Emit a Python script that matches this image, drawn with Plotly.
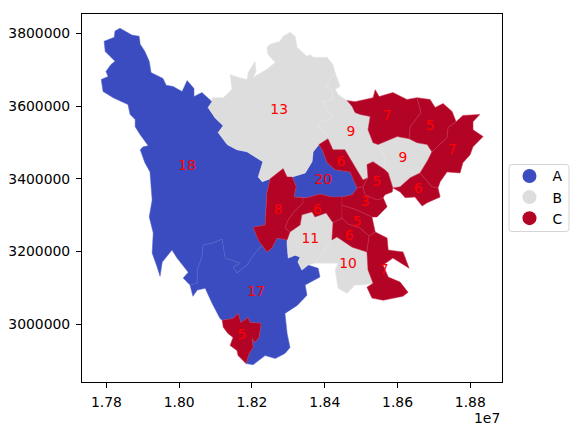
import plotly.graph_objects as go

# district outlines, x in units of 1e4, y in units of 1e3
d18_x = [1783.3, 1784.7, 1786.6, 1788.6, 1788.9, 1790.2, 1791.4, 1791.9, 1795.2, 1796.1, 1798, 1800.5, 1801.9, 1803.8, 1803.8, 1806, 1808.8, 1807.7, 1809.6, 1811.9, 1810.5, 1813, 1815.7, 1818.5, 1822.9, 1821.6, 1822.7, 1824.9, 1824, 1823.8, 1823.5, 1820.2, 1821.6, 1822.7, 1820.7, 1818.5, 1815.7, 1814.6, 1816.6, 1812.4, 1811.6, 1808.8, 1806.3, 1806, 1804.7, 1804.7, 1802.7, 1800.8, 1802.2, 1799.1, 1797.7, 1795, 1794.4, 1793.6, 1792.2, 1792.5, 1791.4, 1792.2, 1791.6, 1790.2, 1788.9, 1789.7, 1791.1, 1788.9, 1787.5, 1787.5, 1786.1, 1785.5, 1781.4, 1778.6, 1778.1, 1780, 1779.4, 1780.8, 1781.9, 1779.2, 1778.9, 1781.7, 1781.9]
d18_y = [3814, 3806, 3795, 3792, 3770, 3750, 3723, 3692, 3676, 3657, 3654, 3640, 3670, 3648, 3626, 3637, 3612, 3596, 3568, 3546, 3527, 3494, 3480, 3474, 3447, 3405, 3392, 3400, 3361, 3334, 3273, 3267, 3232, 3218, 3196, 3163, 3141, 3157, 3168, 3182, 3234, 3223, 3218, 3185, 3149, 3113, 3108, 3127, 3143, 3182, 3204, 3171, 3132, 3157, 3196, 3251, 3295, 3342, 3419, 3444, 3480, 3488, 3491, 3521, 3543, 3563, 3577, 3604, 3623, 3640, 3673, 3681, 3695, 3714, 3723, 3750, 3778, 3789, 3806]

d17_x = [1821.6, 1824, 1825.4, 1826.8, 1829.6, 1829.6, 1829.9, 1831.8, 1833.2, 1832.6, 1833.7, 1835.4, 1838.2, 1838.7, 1834.6, 1835.1, 1832.4, 1829, 1829.6, 1830.4, 1829, 1826.3, 1823.5, 1820.2, 1818.2, 1819.1, 1820.2, 1819.9, 1820.7, 1821.8, 1822.4, 1819.3, 1818.8, 1816.8, 1816, 1814.6, 1811.6, 1811, 1808.8, 1806.9, 1804.7, 1803.5, 1802.7, 1804.7, 1804.7, 1806, 1806.3, 1808.8, 1811.6, 1812.4, 1816.6, 1814.6, 1815.7, 1818.5, 1820.7, 1822.7]
d17_y = [3232, 3199, 3210, 3237, 3232, 3218, 3182, 3190, 3185, 3171, 3149, 3163, 3154, 3130, 3108, 3080, 3052, 3030, 2975, 2936, 2920, 2906, 2914, 2889, 2892, 2920, 2936, 2961, 2950, 2964, 3003, 3005, 3019, 3005, 3030, 3016, 3011, 3016, 3058, 3099, 3094, 3077, 3108, 3113, 3149, 3185, 3218, 3223, 3234, 3182, 3168, 3157, 3141, 3163, 3196, 3218]

d20_x = [1831, 1834.6, 1836.5, 1836.8, 1838.4, 1839.3, 1840.7, 1842.9, 1847, 1849, 1847.6, 1844.8, 1842, 1838.7, 1835.1, 1831.5, 1832.1]
d20_y = [3405, 3416, 3447, 3474, 3494, 3480, 3444, 3425, 3419, 3375, 3356, 3350, 3350, 3358, 3348, 3350, 3378]

d13_x = [1808.8, 1811.9, 1814.3, 1813.8, 1816, 1818.5, 1818.8, 1820.7, 1821, 1820.2, 1824, 1824.9, 1826.3, 1824.3, 1824, 1824.9, 1827.6, 1828.5, 1830.4, 1831.8, 1832.4, 1835.1, 1836, 1836.8, 1840.7, 1842.3, 1842.9, 1840.1, 1842, 1842.3, 1839.6, 1840.7, 1842.3, 1838.7, 1838.2, 1840.9, 1840.9, 1838.4, 1836.8, 1836.5, 1834.6, 1831, 1829.6, 1828.5, 1824.9, 1822.7, 1821.6, 1822.9, 1818.5, 1815.7, 1813, 1810.5, 1811.9, 1809.6, 1807.7, 1808.8]
d13_y = [3623, 3623, 3646, 3687, 3679, 3673, 3692, 3723, 3695, 3679, 3701, 3709, 3720, 3742, 3761, 3770, 3778, 3792, 3803, 3792, 3761, 3737, 3742, 3734, 3734, 3714, 3692, 3654, 3646, 3618, 3612, 3590, 3568, 3555, 3541, 3521, 3510, 3494, 3474, 3447, 3416, 3405, 3405, 3428, 3400, 3392, 3405, 3447, 3474, 3480, 3494, 3527, 3546, 3568, 3596, 3612]

d9n_x = [1842.9, 1844.3, 1842.9, 1843.7, 1846.2, 1847.6, 1848.4, 1849.8, 1852.6, 1852, 1853.4, 1854.8, 1856.7, 1856.7, 1853.4, 1851.7, 1852, 1850.6, 1848.4, 1845.6, 1842.3, 1840.9, 1840.9, 1838.2, 1838.7, 1842.3, 1840.7, 1839.6, 1842.3, 1842, 1840.1]
d9n_y = [3692, 3654, 3646, 3632, 3615, 3599, 3582, 3577, 3571, 3535, 3499, 3494, 3458, 3425, 3447, 3439, 3403, 3397, 3433, 3480, 3480, 3510, 3521, 3541, 3555, 3568, 3590, 3612, 3618, 3646, 3654]

d9e_x = [1854.8, 1860.1, 1863.4, 1865.6, 1868.4, 1869.7, 1868.6, 1866.4, 1863.7, 1860.9, 1858.9, 1857.6, 1856.7, 1856.7]
d9e_y = [3494, 3516, 3510, 3499, 3494, 3474, 3452, 3416, 3403, 3378, 3375, 3416, 3425, 3458]

d11_x = [1830.4, 1833.2, 1833.7, 1836.5, 1837.3, 1840.4, 1842.3, 1842, 1839.6, 1837.3, 1835.4, 1833.7, 1832.6, 1833.2, 1831.8, 1829.9, 1829.6, 1829.6]
d11_y = [3254, 3273, 3301, 3309, 3295, 3306, 3279, 3232, 3199, 3168, 3163, 3149, 3171, 3185, 3190, 3182, 3218, 3232]

d10_x = [1842, 1843.4, 1845.6, 1847.6, 1851.7, 1852, 1853.4, 1850.6, 1848.4, 1846.2, 1843.7, 1842.9, 1843.7, 1837.3, 1839.6]
d10_y = [3232, 3240, 3226, 3212, 3199, 3149, 3113, 3108, 3108, 3085, 3099, 3149, 3168, 3168, 3199]

d6n_x = [1838.4, 1840.9, 1842.3, 1845.6, 1848.4, 1850.6, 1852, 1850.6, 1849, 1847, 1842.9, 1840.7, 1839.3]
d6n_y = [3494, 3510, 3480, 3480, 3433, 3397, 3403, 3378, 3375, 3419, 3425, 3444, 3480]

d8_x = [1824.9, 1828.5, 1829.6, 1831, 1832.1, 1831.5, 1834, 1834, 1831.5, 1829.9, 1829, 1830.4, 1829.6, 1826.8, 1825.4, 1824, 1821.6, 1820.2, 1823.5, 1823.8, 1824]
d8_y = [3400, 3428, 3405, 3405, 3378, 3350, 3348, 3334, 3309, 3287, 3265, 3254, 3232, 3237, 3210, 3199, 3232, 3267, 3273, 3334, 3361]

d6c_x = [1831.5, 1834, 1834, 1835.1, 1838.7, 1842, 1844.8, 1844.8, 1844.8, 1842.3, 1840.4, 1837.3, 1836.5, 1833.7, 1833.2, 1830.4, 1829, 1829.9]
d6c_y = [3309, 3334, 3348, 3348, 3358, 3350, 3350, 3328, 3292, 3279, 3306, 3295, 3309, 3301, 3273, 3254, 3265, 3287]

d6s_x = [1842.3, 1844.8, 1846.5, 1849.8, 1852.3, 1851.7, 1847.6, 1845.6, 1843.4, 1842]
d6s_y = [3279, 3292, 3276, 3265, 3243, 3199, 3212, 3226, 3240, 3232]

d5m_x = [1844.8, 1849, 1853.1, 1854, 1852.3, 1849.8, 1846.5, 1844.8]
d5m_y = [3328, 3314, 3295, 3254, 3243, 3265, 3276, 3292]

d3_x = [1844.8, 1847.6, 1849, 1850.6, 1851.2, 1854.5, 1856.2, 1857.3, 1854.5, 1853.1, 1849, 1844.8]
d3_y = [3350, 3356, 3375, 3378, 3356, 3342, 3348, 3323, 3295, 3295, 3314, 3328]

d5c_x = [1850.6, 1852, 1851.7, 1853.4, 1856.7, 1857.6, 1858.9, 1858.7, 1856.7, 1856.2, 1854.5, 1851.2]
d5c_y = [3378, 3403, 3439, 3447, 3425, 3416, 3375, 3364, 3356, 3348, 3342, 3356]

d7s_x = [1852.3, 1854, 1857.3, 1857.6, 1861.7, 1863.4, 1858.9, 1856.2, 1857.6, 1860.9, 1863.1, 1861.7, 1856.2, 1853.1, 1851.7, 1853.4, 1852, 1851.7]
d7s_y = [3243, 3254, 3237, 3204, 3199, 3154, 3182, 3163, 3130, 3116, 3088, 3077, 3066, 3072, 3102, 3113, 3149, 3199]

d5sw_x = [1811.6, 1814.6, 1816, 1816.8, 1818.8, 1819.3, 1822.4, 1821.8, 1820.7, 1819.9, 1820.2, 1819.1, 1818.2, 1816, 1815.7, 1813.8, 1814.6, 1813.2, 1811.9]
d5sw_y = [3011, 3016, 3030, 3005, 3019, 3005, 3003, 2964, 2950, 2961, 2936, 2920, 2892, 2914, 2928, 2942, 2964, 2975, 2992]

d7n_x = [1846.2, 1848.4, 1853.4, 1854, 1855.1, 1858.9, 1862.8, 1865.6, 1866.7, 1863.7, 1863.4, 1860.1, 1854.8, 1853.4, 1852, 1852.6, 1849.8, 1848.4, 1847.6]
d7n_y = [3615, 3612, 3623, 3645, 3626, 3637, 3618, 3623, 3582, 3543, 3510, 3516, 3494, 3499, 3535, 3571, 3577, 3582, 3599]

d5ne_x = [1865.6, 1869.2, 1870.6, 1872.8, 1875.3, 1876.4, 1874.2, 1873.9, 1869.7, 1868.4, 1865.6, 1863.4, 1863.7, 1866.7]
d5ne_y = [3623, 3618, 3596, 3607, 3585, 3557, 3541, 3513, 3474, 3494, 3499, 3510, 3543, 3582]

d7e_x = [1876.4, 1878.3, 1883, 1881.1, 1881.1, 1883.9, 1881.1, 1880.3, 1878.3, 1877.5, 1873.9, 1872, 1871.4, 1869.7, 1866.4, 1868.6, 1869.7, 1873.9, 1874.2]
d7e_y = [3557, 3574, 3577, 3557, 3535, 3516, 3488, 3466, 3444, 3416, 3419, 3392, 3375, 3378, 3416, 3452, 3474, 3513, 3541]

d6se_x = [1858.9, 1860.9, 1863.7, 1866.4, 1869.7, 1871.4, 1872, 1868.4, 1867, 1865, 1862.3, 1860.9]
d6se_y = [3375, 3378, 3403, 3416, 3378, 3375, 3350, 3334, 3325, 3350, 3348, 3364]

# district labels
label_text = ["13", "18", "9", "7", "5", "7", "9", "6", "20", "5", "3", "6", "8", "6", "11", "5", "6", "10", "7", "17", "5"]
label_x = [1827.4, 1801.9, 1847.3, 1857.3, 1869.2, 1875.3, 1861.7, 1844.5, 1839.6, 1854.5, 1851.2, 1865.9, 1827.1, 1838, 1836, 1849, 1846.8, 1846.5, 1856.5, 1821, 1817.1]
label_y = [3588, 3433, 3527, 3571, 3543, 3477, 3455, 3444, 3394, 3389, 3334, 3370, 3312, 3312, 3234, 3281, 3240, 3163, 3149, 3088, 2970]

classes = ["A", "B", "C"]
class_colors = {"A": "#3b4cc0", "B": "#dddddd", "C": "#b40426"}
border_colors = {"A": "#5262c8", "B": "#e4e4e4", "C": "#c22a47"}

xticks = [1780, 1800, 1820, 1840, 1860, 1880]
xtick_labels = ["1.78", "1.80", "1.82", "1.84", "1.86", "1.88"]
yticks = [3000, 3200, 3400, 3600, 3800]

districts = [
    ("A", d18_x, d18_y), ("A", d17_x, d17_y), ("A", d20_x, d20_y),
    ("B", d13_x, d13_y), ("B", d9n_x, d9n_y), ("B", d9e_x, d9e_y),
    ("B", d11_x, d11_y), ("B", d10_x, d10_y),
    ("C", d6n_x, d6n_y), ("C", d8_x, d8_y), ("C", d6c_x, d6c_y),
    ("C", d6s_x, d6s_y), ("C", d5m_x, d5m_y), ("C", d3_x, d3_y),
    ("C", d5c_x, d5c_y), ("C", d7s_x, d7s_y), ("C", d5sw_x, d5sw_y),
    ("C", d7n_x, d7n_y), ("C", d5ne_x, d5ne_y), ("C", d7e_x, d7e_y),
    ("C", d6se_x, d6se_y),
]

FONT = "DejaVu Sans"


def to_x(v):
    # x values above were read with a slightly narrow scale, correct them here
    return (1780.47 + (v - 1780) * 0.9918) * 1e4


fig = go.Figure()

for cls, xs, ys in districts:
    fig.add_trace(go.Scatter(
        x=[to_x(v) for v in xs + xs[:1]], y=[v * 1e3 for v in ys + ys[:1]],
        mode="lines", fill="toself", fillcolor=class_colors[cls],
        line=dict(color=border_colors[cls], width=0.5),
        hoverinfo="skip", showlegend=False,
    ))

fig.add_trace(go.Scatter(
    x=[to_x(v) for v in label_x], y=[v * 1e3 for v in label_y], text=label_text,
    mode="text", textposition="middle center",
    textfont=dict(color="#ff0000", size=13.9, family=FONT),
    hoverinfo="skip", showlegend=False,
))

# empty traces for the legend
for cls in classes:
    fig.add_trace(go.Scatter(
        x=[None], y=[None], mode="markers", name=cls,
        marker=dict(color=class_colors[cls], size=14),
    ))

# rounded legend frame, plotly legends only have square corners
box_l, box_r, box_b, box_t = 1.0167, 1.1595, 0.4090, 0.5910
rx, ry = 0.0071, 0.0082
legend_frame = (
    f"M {box_l + rx} {box_b} L {box_r - rx} {box_b} Q {box_r} {box_b} {box_r} {box_b + ry} "
    f"L {box_r} {box_t - ry} Q {box_r} {box_t} {box_r - rx} {box_t} "
    f"L {box_l + rx} {box_t} Q {box_l} {box_t} {box_l} {box_t - ry} "
    f"L {box_l} {box_b + ry} Q {box_l} {box_b} {box_l + rx} {box_b} Z"
)

# the page puts the figure 8px in from the top left corner
fig.update_layout(
    width=562, height=418,
    margin=dict(l=74, r=68, t=6, b=44),
    paper_bgcolor="white", plot_bgcolor="white",
    font=dict(family=FONT, size=13.9, color="black"),
    legend=dict(
        xref="container", yref="container",
        x=0.887, y=0.5467, xanchor="left", yanchor="middle",
        bgcolor="rgba(0,0,0,0)", borderwidth=0, itemsizing="trace", itemwidth=36,
        font=dict(size=13.9, family=FONT),
    ),
    shapes=[dict(
        type="path", path=legend_frame, xref="paper", yref="paper",
        line=dict(color="#d5d5d5", width=1), fillcolor="white", layer="below",
    )],
    annotations=[dict(
        text="1e7", x=1, y=0, xref="paper", yref="paper",
        xanchor="right", yanchor="top", yshift=-26, showarrow=False,
        font=dict(size=13.9, family=FONT),
    )],
)
fig.update_xaxes(
    range=[1773.3e4, 1888.7e4], tickvals=[v * 1e4 for v in xticks], ticktext=xtick_labels,
    showgrid=False, zeroline=False, showline=True, linecolor="black", linewidth=1,
    mirror=True, ticks="outside", ticklen=5, tickcolor="black", ticklabelstandoff=2,
    automargin=False,
)
fig.update_yaxes(
    range=[2841.4e3, 3853e3], tickvals=[v * 1e3 for v in yticks], ticktext=[str(v * 1000) for v in yticks],
    showgrid=False, zeroline=False, showline=True, linecolor="black", linewidth=1,
    mirror=True, ticks="outside", ticklen=5, tickcolor="black", ticklabelstandoff=3,
    automargin=False,
)

fig.write_html("out.html")
